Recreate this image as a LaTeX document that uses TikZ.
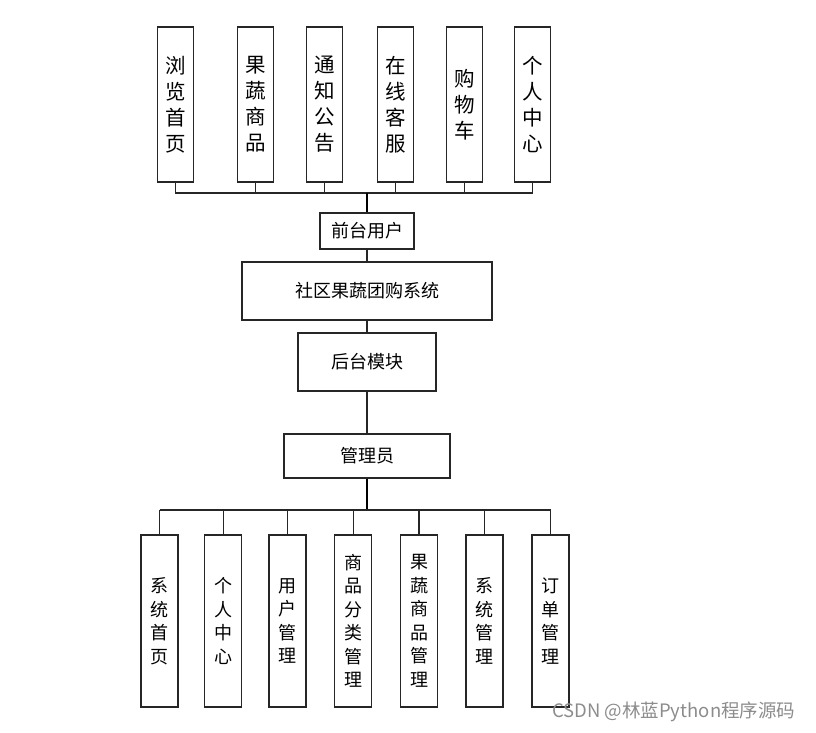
\documentclass[tikz,border=0pt]{standalone}
\usepackage{fontspec}
\setmainfont{Noto Sans CJK SC}
\newfontfamily\cjkfont{Noto Sans CJK SC}
\begin{document}
\begin{tikzpicture}[x=1pt,y=-1pt,
  box/.style={draw=black!85,line width=1.5pt,fill=white,inner sep=0pt,align=center},
  topbox/.style={box,minimum width=36pt,minimum height=155pt,font=\cjkfont\fontsize{20.5}{26}\selectfont},
  botbox/.style={box,minimum width=37pt,minimum height=172pt,font=\cjkfont\fontsize{18}{23.5}\selectfont},
  hbox/.style={box,font=\cjkfont\fontsize{18}{20}\selectfont},
  conn/.style={draw=black!85,line width=1.2pt},
  trunk/.style={draw=black,line width=1.8pt}]
\useasboundingbox (0,0) rectangle (816,732);
% top row
\node[topbox] (t1) at (175.3,104.5) {浏\\览\\首\\页};
\node[topbox] (t2) at (255.3,104.5) {果\\蔬\\商\\品};
\node[topbox] (t3) at (324.5,104.5) {通\\知\\公\\告};
\node[topbox] (t4) at (395.3,104.5) {在\\线\\客\\服};
\node[topbox] (t5) at (464.5,104.5) {购\\物\\车};
\node[topbox] (t6) at (532.7,104.5) {个\\人\\中\\心};
% middle
\node[hbox,minimum width=94pt,minimum height=36pt] (qt) at (367,231) {前台用户};
\node[hbox,minimum width=250pt,minimum height=58pt] (sys) at (367,291) {社区果蔬团购系统};
\node[hbox,minimum width=138pt,minimum height=58pt] (hm) at (367,362) {后台模块};
\node[hbox,minimum width=166pt,minimum height=44pt] (adm) at (367,456) {管理员};
% bottom row
\node[botbox] (b1) at (159.5,621) {系\\统\\首\\页};
\node[botbox] (b2) at (223.2,621) {个\\人\\中\\心};
\node[botbox] (b3) at (287.6,621) {用\\户\\管\\理};
\node[botbox] (b4) at (353.2,621) {商\\品\\分\\类\\管\\理};
\node[botbox] (b5) at (419,621) {果\\蔬\\商\\品\\管\\理};
\node[botbox] (b6) at (484.7,621) {系\\统\\管\\理};
\node[botbox] (b7) at (550.5,621) {订\\单\\管\\理};
% buses
\coordinate (busT) at (367,193);
\coordinate (busB) at (367,510);
\draw[conn] (t1.south |- busT) -- (t6.south |- busT);
\foreach \n in {t1,t2,t3,t4,t5,t6} \draw[conn] (\n.south) -- (\n.south |- busT);
\draw[trunk] (busT) -- (qt.north);
\draw[conn] (qt.south) -- (sys.north);
\draw[conn] (sys.south) -- (hm.north);
\draw[conn] (hm.south) -- (adm.north);
\draw[trunk] (adm.south) -- (busB);
\draw[conn] (b1.north |- busB) -- (b7.north |- busB);
\foreach \n in {b1,b2,b3,b4,b5,b6,b7} \draw[conn] (\n.north) -- (\n.north |- busB);
% watermark
\node[anchor=west,text=black!45,inner sep=0pt,font=\cjkfont\fontsize{18.5}{20}\selectfont] (wm) at (552,712) {CSDN @林蓝Python程序源码};
\end{tikzpicture}
\end{document}
